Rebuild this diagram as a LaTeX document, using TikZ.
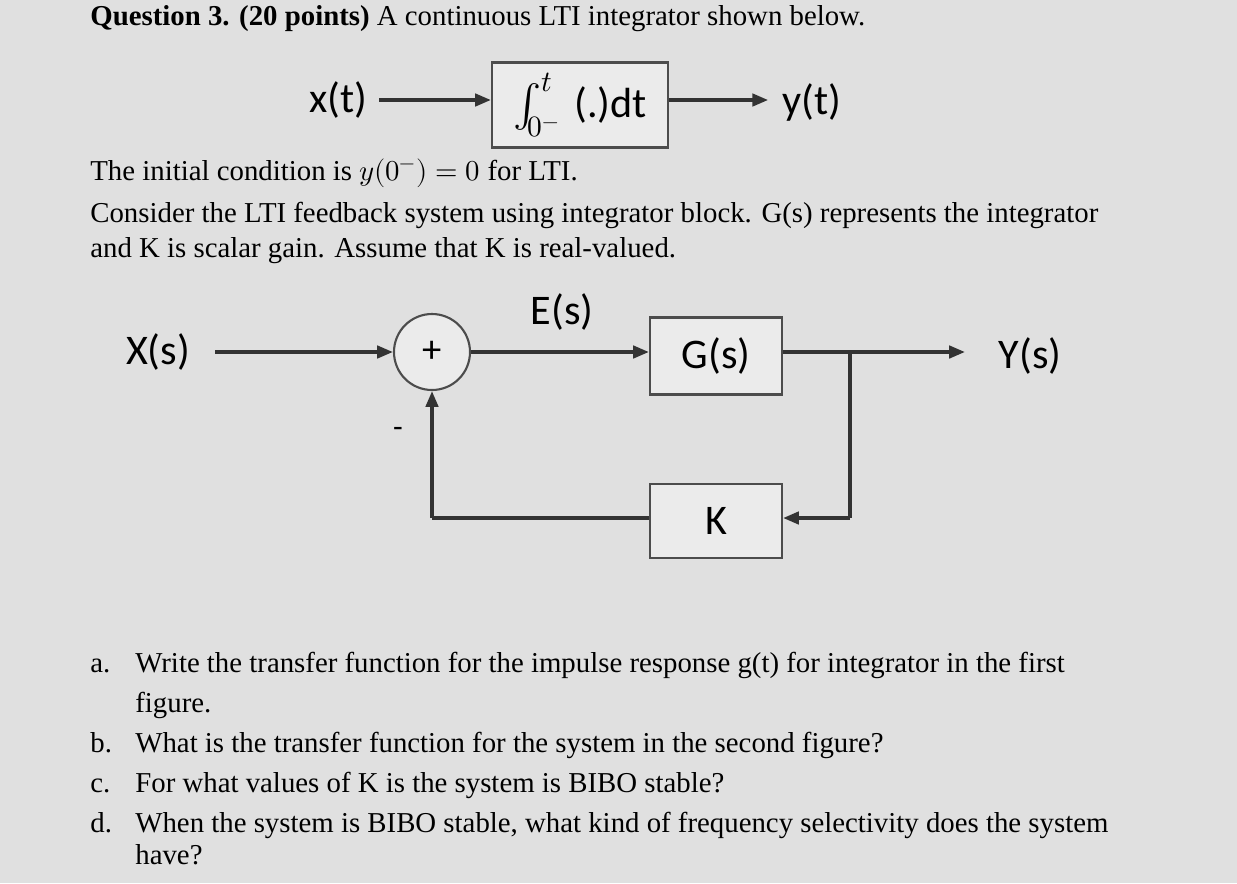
\documentclass[tikz,border=0pt]{standalone}
\usepackage{fontspec}
\setmainfont{Liberation Serif}
\newfontfamily\dsans{Carlito}
\usepackage{unicode-math}
\setmathfont{Latin Modern Math}
\usetikzlibrary{arrows.meta}
\begin{document}
\begin{tikzpicture}[x=0.02cm,y=-0.02cm,
  qtext/.style={anchor=base west,inner sep=0pt,font=\fontsize{16.4}{20}\selectfont},
  dlabel/.style={inner sep=0pt,font=\dsans\fontsize{24}{28}\selectfont},
  blk/.style={draw=black!70,line width=1.2pt,fill=black!8},
  conn/.style={line width=2pt,draw=black!80,-{Triangle[length=9pt,width=7pt]}},
  plain/.style={line width=2pt,draw=black!80}]
\fill[black!12] (0,0) rectangle (1237,883);
\useasboundingbox (0,0) rectangle (1237,883);
% title
\node[qtext] (title) at (90,25) {\textbf{Question 3. (20 points)} A continuous LTI integrator shown below.};
% integrator
\node[blk,minimum width=176*0.02cm,minimum height=85*0.02cm] (int) at (580,105) {\dsans\fontsize{24}{28}\selectfont $\int_{0^-}^{t}$\,\,(.)dt};
\node[dlabel] (x) at (338,100) {x(t)};
\node[dlabel] (y) at (812,102) {y(t)};
\draw[conn] (x.east)++(12,0) coordinate (xs) -- (int.west |- xs);
\draw[conn] (int.east |- xs) -- ([xshift=-8pt]y.west |- xs);
% text
\node[qtext] (t1) at (90,180) {The initial condition is $y(0^{-}) = 0$ for LTI.};
\node[qtext] (t2) at (90,222) {Consider the LTI feedback system using integrator block. G(s) represents the integrator};
\node[qtext] (t3) at (90,257) {and K is scalar gain. Assume that K is real-valued.};
% feedback diagram
\node[dlabel] (E) at (562,312) {E(s)};
\node[dlabel] (X) at (158,352) {X(s)};
\node[draw=black!70,line width=1.2pt,fill=black!8,circle,minimum size=76*0.02cm] (sum) at (432,352) {\dsans\fontsize{22}{26}\selectfont +};
\node[blk,minimum width=132*0.02cm,minimum height=77*0.02cm] (G) at (716,356) {\dsans\fontsize{24}{28}\selectfont G(s)};
\node[blk,minimum width=132*0.02cm,minimum height=74*0.02cm] (K) at (716,521) {\dsans\fontsize{24}{28}\selectfont K};
\node[dlabel] (Y) at (1030,356) {Y(s)};
\node[inner sep=0pt,font=\dsans\fontsize{18}{20}\selectfont] (minus) at (398,432) {-};
\coordinate (br) at (850,352);
\draw[conn] (215,352) -- (sum.west);
\draw[conn] (sum.east) -- (G.west |- sum);
\draw[conn] (G.east |- br) -- (965,352);
\draw[plain] (br) -- (850,518);
\draw[conn] (850,518) -- (K.east |- 0,518);
\draw[plain] (K.west |- 0,518) -- (432,518);
\draw[conn] (432,518) -- (sum.south);
% questions
\node[qtext] (la) at (90,672) {a.};
\node[qtext] (qa) at (135,672) {Write the transfer function for the impulse response g(t) for integrator in the first};
\node[qtext] (qa2) at (135,712) {figure.};
\node[qtext] (lb) at (90,752) {b.};
\node[qtext] (qb) at (135,752) {What is the transfer function for the system in the second figure?};
\node[qtext] (lc) at (90,792) {c.};
\node[qtext] (qc) at (135,792) {For what values of K is the system is BIBO stable?};
\node[qtext] (ld) at (90,832) {d.};
\node[qtext] (qd) at (135,832) {When the system is BIBO stable, what kind of frequency selectivity does the system};
\node[qtext] (qd2) at (135,864) {have?};
\end{tikzpicture}
\end{document}
